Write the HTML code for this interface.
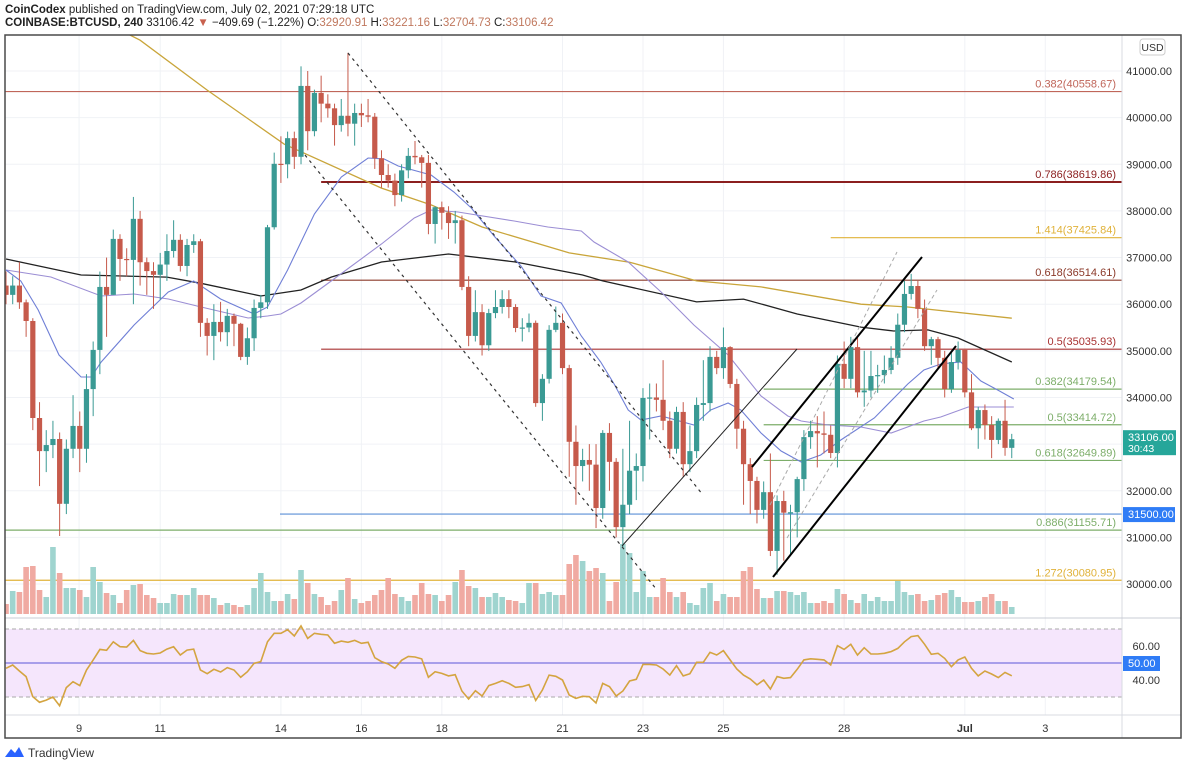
<!DOCTYPE html>
<html><head><meta charset="utf-8"><style>
html,body{margin:0;padding:0;background:#fff;width:1186px;height:768px;overflow:hidden}
svg{display:block;font-family:"Liberation Sans",sans-serif}
</style></head><body>
<svg id="chart" xmlns="http://www.w3.org/2000/svg" width="1186" height="768" viewBox="0 0 1186 768">
<text x="5" y="13" font-size="11.5" fill="#222"><tspan font-weight="bold">CoinCodex</tspan> published on TradingView.com, July 02, 2021 07:29:18 UTC</text>
<text x="5" y="26" font-size="11.5" fill="#222"><tspan font-weight="bold">COINBASE:BTCUSD, 240</tspan> 33106.42 <tspan fill="#c8614f">▼</tspan> −409.69 (−1.22%) O:<tspan fill="#c0785e">32920.91</tspan> H:<tspan fill="#c0785e">33221.16</tspan> L:<tspan fill="#c0785e">32704.73</tspan> C:<tspan fill="#c0785e">33106.42</tspan></text>
<g id="grid"></g>
<defs><clipPath id="mainClip"><rect x="5" y="35" width="1117" height="583"/></clipPath>
<clipPath id="rsiClip"><rect x="5" y="619" width="1117" height="96"/></clipPath></defs>
<g id="fibs" clip-path="url(#mainClip)"></g>
<g id="vol" clip-path="url(#mainClip)"></g>
<g id="mas" clip-path="url(#mainClip)"></g>
<g id="candles" clip-path="url(#mainClip)"></g>
<g id="trend" clip-path="url(#mainClip)"></g>
<g id="rsi" clip-path="url(#rsiClip)"></g>
<g id="axes"></g>
<rect x="5" y="35" width="1176" height="703" fill="none" stroke="#4a4a4a" stroke-width="1.5"/>
<g>
<path d="M5 757 L11 749 L15 753 L19 747 L24 757 Z" fill="#2962ff"/>
<text x="28" y="757" font-size="12" fill="#333">TradingView</text></g>
</svg>
<script>
const closes=[36200,36400,36040,35640,33560,32850,32980,33110,31720,32900,33390,32900,34180,35020,36370,36200,37400,36970,36950,37830,36900,36710,36630,36850,37140,37380,36820,37270,37350,35600,35320,35620,35400,35750,35580,34870,35270,35920,36040,37650,39010,39000,39560,39160,40680,39710,40530,40300,40200,39840,40040,39870,40100,40050,40020,39130,38770,38650,38340,38870,39180,39150,39030,37720,38080,37960,37740,37800,36370,35320,35830,35120,35810,35940,36110,35940,35490,35500,35600,33880,34400,35450,35600,34630,33050,32530,32660,32560,31630,33240,32620,31220,31700,32430,32530,33990,34000,33950,33500,32900,33690,32570,32850,33840,33880,34870,34630,35080,34290,33330,32570,32210,31590,31970,30710,31780,31530,31540,32250,33150,33280,33230,33200,32810,34720,34400,35080,34110,34150,34460,34480,34590,34850,35560,36220,36390,35900,35100,35250,34850,34180,34760,35020,34110,33340,33730,33410,33090,33500,32920,33106];
const firstOpen=36400;
const highs=[36700,36600,36900,36100,35700,33900,33300,33500,33250,33100,34050,33700,34500,35200,36700,37000,37600,37500,37200,38300,38000,37000,36900,37100,37500,37800,37500,37400,37500,37400,35700,36000,36050,35900,35800,35600,35500,36100,36200,37700,39250,39600,39700,39700,41100,41000,40600,40900,40500,40300,40400,41390,40300,40300,40400,40100,39300,39000,38800,39000,39350,39500,39200,39200,38100,38200,38100,38000,37900,36600,36300,36000,35900,36300,36300,36300,36000,35700,35800,35650,34500,35550,35950,35800,34700,33400,32900,33000,33000,33300,33450,32700,32900,33500,32800,34200,34300,34300,34800,33700,33800,33900,33400,34000,34800,35100,35000,35500,35100,34400,33500,32700,32300,32200,32800,31900,32000,31700,32300,33300,33500,33600,33700,33400,34900,35200,35300,35300,35000,35000,34700,34900,35100,35800,36500,36650,36500,36100,35300,35300,35000,35000,35200,35050,34500,33800,33850,33600,33550,33950,33220];
const lows=[36000,36000,35900,35300,33300,32100,32400,32700,31030,31500,32700,32400,32600,33600,34500,35300,36200,36500,36600,36000,36400,36200,35900,36100,36500,37000,36700,36600,37100,35300,34900,34800,35200,35100,35100,34800,34700,35000,35700,35900,37600,38600,38700,38900,39000,39300,39600,39900,40000,39400,39700,39600,39400,39800,39900,38900,38500,38500,38100,38200,38700,39000,38500,37500,37300,37600,37400,37300,36300,35100,35200,34900,35000,35700,35800,35700,35400,35200,35400,33800,33500,34300,35400,34500,32300,31700,32200,32000,31200,31400,32000,31000,30800,31500,31800,32200,33100,33700,33300,32700,32800,32300,32400,32700,33500,33700,34500,34400,34200,32900,31700,31500,31300,31400,30600,30200,30500,30600,31000,32000,32900,32500,32800,32700,32500,34200,34200,34000,33800,34000,34100,34300,34500,34700,35400,36100,35700,35000,34700,34600,34000,34100,34600,34000,33300,32900,33100,32700,33000,32750,32700];
const volumes=[10,23,22,47,48,24,17,67,41,26,26,24,17,47,32,21,19,11,24,29,30,19,16,11,11,20,19,19,26,19,19,16,9,11,9,7,9,26,41,22,13,13,20,15,44,31,20,17,9,13,24,36,15,11,13,19,24,36,20,17,13,19,31,20,19,13,19,32,44,28,26,17,17,21,17,14,13,11,31,31,20,22,19,19,50,59,53,43,46,41,13,32,70,61,22,43,17,17,36,22,17,22,11,9,26,31,13,20,17,17,43,47,25,16,16,23,23,22,19,22,11,11,13,11,25,20,14,11,20,13,17,13,13,33,22,19,20,13,14,19,21,24,17,12,12,13,17,20,13,13,7];
const rsiValues=[46.9,48.8,45.3,42,30.2,26.9,28.2,30,24.9,35.5,39,36.7,45.9,51.8,58,57.5,62.5,59.6,59.4,63.3,57.3,55.7,55.3,55.9,58.2,59.6,54.7,57.6,58.2,45.9,43.7,46.3,44.7,47.3,45.9,41.6,44.9,49.8,50.8,62.5,67.5,67.5,69.6,65.9,71.8,64.5,67.5,66.9,66.5,61.6,62.9,62.2,63.3,61.6,62.2,53.1,50.8,49.4,46.9,51.6,53.9,53.5,52.4,41.6,44.9,43.9,42.4,43.1,33.5,28.8,33.7,30.6,36.7,38,39.6,38,35.7,36.1,37.3,28,34.1,42.9,42.2,40,31.2,29.2,30.4,30.2,26.5,38,36.1,30.6,33.5,39.4,40.4,49.2,49.2,48.8,46.5,42.9,48.4,42.4,43.7,50.4,50.4,56.3,54.7,57.3,51.8,46.5,42.9,40.6,37.1,40,34.7,42,41,41.4,46.3,51.8,52.5,52.2,51.8,48.8,60.2,58,61,54.7,59,55.3,55.3,55.7,56.7,58.6,62.5,65.5,66.1,61,55.1,55.7,52.7,47.8,51.8,53.5,46.9,42.4,45.3,43.5,41.4,44.5,42.5];
const ma20Idx=[0,2.2,4.8,7.9,11.2,12.7,14.2,19.1,24.2,28,32,37,39,42,46,50,54,56.4,58.5,63.4,66.8,69.4,72.8,76.8,79.8,82.8,85.8,88.7,90.7,92.8,94.7,97.7,102.6,105.1,107.7,109.6,112.6,115.6,118.6,121.5,124.5,129.5,134.5,136.9,139.4,142.4,145.4,147.9,150.3];
const ma20Val=[36733,36498,35876,34911,34440,34440,34761,35554,36262,36498,36112,35790,35940,36733,37934,38727,39135,39113,38963,38770,38406,38063,37462,36819,36176,36026,35318,34761,34289,33732,33517,33603,33410,33732,33882,33732,33239,32853,32617,32767,33089,33560,34289,34590,34718,34761,34354,34161,33968];
const ma50Idx=[0,6.7,14.2,19.1,24.2,29.1,36.1,39,41,44,48.5,56,60.9,63.4,67.4,75.8,80.8,85.8,87.7,92.8,97.7,102.6,107.7,112.6,116.6,118.6,122.6,127.5,132,136.9,139.4,143.5,150.3];
const ma50Val=[36733,36583,36176,36219,36112,35940,35704,35747,35790,36026,36498,37291,37848,38020,37977,37784,37655,37570,37334,36905,36262,35554,34911,34032,33603,33496,33410,33367,33239,33496,33582,33796,33796];
const ma100Idx=[0,11.2,24,29,38,44,48.5,56,66,76,86,89,103,110,118,127.5,132.4,137.5,142,150];
const ma100Val=[36970,36626,36580,36450,36176,36305,36580,36905,37076,36905,36626,36500,36050,36110,35790,35510,35425,35450,35275,34760];
const ma200Idx=[17,20,30,41.5,56,63.4,71,84,93,103,112.6,127.5,134.5,150];
const ma200Val=[41880,41660,40590,39430,38490,38130,37655,37100,36900,36500,36370,36000,35940,35700];
const priceTicks=[41000,40000,39000,38000,37000,36000,35000,34000,33000,32000,31000,30000];
const fibPrices=[40558.67,38619.86,37425.84,36514.61,35035.93,34179.54,33414.72,32649.89,31155.71,30080.95];
const fibLabels=["0.382","0.786","1.414","0.618","0.5","0.382","0.5","0.618","0.886","1.272"];
const fibColors=["#c0665a","#8b1f1f","#e0b23a","#8b3a2a","#a83232","#7dae6a","#7dae6a","#7dae6a","#7dae6a","#e0b23a"];
const fibStartIdx=[-1,47,123,47,47,113,113,113,-1,-1];
const dayLabels=["9","11","14","16","18","21","23","25","28","Jul","3"];
const dayIdx=[10.9,23,41,53,65,83,95,107,125,143,155];
const rsiTicks=[60,40];

const NS="http://www.w3.org/2000/svg";
const X0=6,DX=6.705;
function xOf(i){return X0+i*DX;}
function yP(p){return 71+(41000-p)*0.04664;}
function yR(v){return 663-(v-50)*1.7;}
function yV(v){return 614-v;}
function mk(tag,attrs,parent){const e=document.createElementNS(NS,tag);for(const k in attrs)e.setAttribute(k,attrs[k]);parent.appendChild(e);return e;}
const G=id=>document.getElementById(id);

// grid
const grid=G('grid');
dayIdx.forEach(d=>{const l=mk('line',{x1:xOf(d),x2:xOf(d),y1:35,y2:715,stroke:'#f0f2f6'},grid);

});
priceTicks.forEach(p=>{const l=mk('line',{x1:5,x2:1122,y1:yP(p),y2:yP(p),stroke:'#f0f2f6'},grid);

});

// fib levels
const fibs=G('fibs');
fibPrices.forEach((p,k)=>{const y=yP(p);const x1=fibStartIdx[k]<0?5:xOf(fibStartIdx[k]);
const l=mk('line',{x1:x1,x2:1122,y1:y,y2:y,stroke:fibColors[k],'stroke-width':k==1?2:1.2},fibs);


const t=mk('text',{x:1116,y:y-4,'text-anchor':'end','font-size':11,fill:fibColors[k]},fibs);
t.textContent=fibLabels[k]+'('+p.toFixed(2)+')';

});
const sup=mk('line',{x1:280,x2:1122,y1:yP(31500),y2:yP(31500),stroke:'#5b8fd6','stroke-width':1.2},fibs);



// volume
const vol=G('vol');
volumes.forEach((v,i)=>{const o=i?closes[i-1]:firstOpen;const up=closes[i]>=o;
const r=mk('rect',{x:xOf(i)-2.8,y:yV(v),width:5.6,height:v,fill:up?'#9fd4cf':'#f0aaa2'},vol);

});

// moving averages
const mas=G('mas');
function maLine(idx,val,color,name,w){const d=idx.map((i,k)=>(k?'L':'M')+xOf(i).toFixed(1)+' '+yP(val[k]).toFixed(1)).join(' ');
const p=mk('path',{d:d,fill:'none',stroke:color,'stroke-width':w},mas);

}
maLine(ma200Idx,ma200Val,'#c9a53a','ma-200-line',1.3);
maLine(ma100Idx,ma100Val,'#222','ma-100-line',1.3);
maLine(ma50Idx,ma50Val,'#9b8ed4','ma-50-line',1.1);
maLine(ma20Idx,ma20Val,'#6f7fd6','ma-20-line',1.1);

// candles
const cg=G('candles');
closes.forEach((c,i)=>{const o=i?closes[i-1]:firstOpen;const up=c>=o;const col=up?'#3a9a94':'#c65a4b';
const h=Math.max(highs[i],o,c),lo=Math.min(lows[i],o,c);const x=xOf(i);
const w=mk('line',{x1:x,x2:x,y1:yP(h),y2:yP(lo),stroke:col,'stroke-width':1},cg);


const top=yP(Math.max(o,c)),bh=Math.max(1.2,yP(Math.min(o,c))-top);
const b=mk('rect',{x:x-2.6,y:top,width:5.2,height:bh,fill:col},cg);

});

// trend lines
const tr=G('trend');
function seg(x1,y1,x2,y2,attrs,name){const l=mk('line',Object.assign({x1:x1,y1:y1,x2:x2,y2:y2},attrs),tr);

}
seg(348,53,703,495,{stroke:'#333','stroke-width':1.2,'stroke-dasharray':'3,4'},'falling-channel-upper');
seg(305,155,657,590,{stroke:'#333','stroke-width':1.2,'stroke-dasharray':'3,4'},'falling-channel-lower');
seg(622,546,797,349,{stroke:'#222','stroke-width':1},'support-trendline');
seg(752,467,922,257,{stroke:'#000','stroke-width':2},'rising-channel-upper');
seg(773,577,956,346,{stroke:'#000','stroke-width':2},'rising-channel-lower');
seg(770,505,897,252,{stroke:'#aaa','stroke-width':1,'stroke-dasharray':'4,3'},'rising-channel-mid-upper');
seg(787,538,937,290,{stroke:'#aaa','stroke-width':1,'stroke-dasharray':'4,3'},'rising-channel-mid-lower');

// RSI
const rg=G('rsi');
const band=mk('rect',{x:5,y:yR(70),width:1117,height:yR(30)-yR(70),fill:'#f5e6fc'},rg);


[70,30].forEach(v=>{const l=mk('line',{x1:5,x2:1122,y1:yR(v),y2:yR(v),stroke:'#aaa','stroke-dasharray':'4,3'},rg);

});
const mid=mk('line',{x1:5,x2:1122,y1:yR(50),y2:yR(50),stroke:'#7a73e0','stroke-width':1.2},rg);


const rp=mk('path',{d:rsiValues.map((v,i)=>(i?'L':'M')+xOf(i).toFixed(1)+' '+yR(v).toFixed(1)).join(' '),fill:'none',stroke:'#d4a440','stroke-width':1.6},rg);



// axes
const ax=G('axes');
function ln(x1,y1,x2,y2,c,name){const l=mk('line',{x1:x1,y1:y1,x2:x2,y2:y2,stroke:c},ax);

}
ln(1122,35,1122,738,'#d8dbe2','price-axis-border');
ln(5,618,1181,618,'#c8ccd4','pane-separator');
ln(5,715,1181,715,'#d8dbe2','time-axis-border');
priceTicks.forEach(p=>{const t=mk('text',{x:1172,y:yP(p)+4,'text-anchor':'end','font-size':11,fill:'#333'},ax);
t.textContent=p.toFixed(2);

});
rsiTicks.forEach(v=>{const t=mk('text',{x:1160,y:yR(v)+4,'text-anchor':'end','font-size':11,fill:'#333'},ax);
t.textContent=v.toFixed(2);

});
dayLabels.forEach((d,k)=>{const t=mk('text',{x:xOf(dayIdx[k]),y:732,'text-anchor':'middle','font-size':11,fill:'#333','font-weight':d=='Jul'?'bold':'normal'},ax);
t.textContent=d;

});
const usd=mk('rect',{x:1140,y:39,width:25,height:16,rx:3,fill:'#fff',stroke:'#ccc'},ax);


const ut=mk('text',{x:1152.5,y:51,'text-anchor':'middle','font-size':10.5,fill:'#333'},ax);ut.textContent='USD';


const last=closes[closes.length-1];
const lb=mk('rect',{x:1123,y:yP(last)-9,width:53,height:25,fill:'#26a69a'},ax);


const lt=mk('text',{x:1128,y:yP(last)+2,'font-size':11,fill:'#fff'},ax);lt.textContent=last.toFixed(2);


const ct=mk('text',{x:1128,y:yP(last)+13,'font-size':10.5,fill:'#fff'},ax);ct.textContent='30:43';


const sb=mk('rect',{x:1123,y:yP(31500)-7,width:52,height:15,fill:'#2f7cf6'},ax);


const st=mk('text',{x:1128,y:yP(31500)+4,'font-size':11,fill:'#fff'},ax);st.textContent='31500.00';


const rb=mk('rect',{x:1123,y:yR(50)-7,width:37,height:15,fill:'#2f7cf6'},ax);


const rt=mk('text',{x:1128,y:yR(50)+4,'font-size':11,fill:'#fff'},ax);rt.textContent='50.00';


</script>
</body></html>
